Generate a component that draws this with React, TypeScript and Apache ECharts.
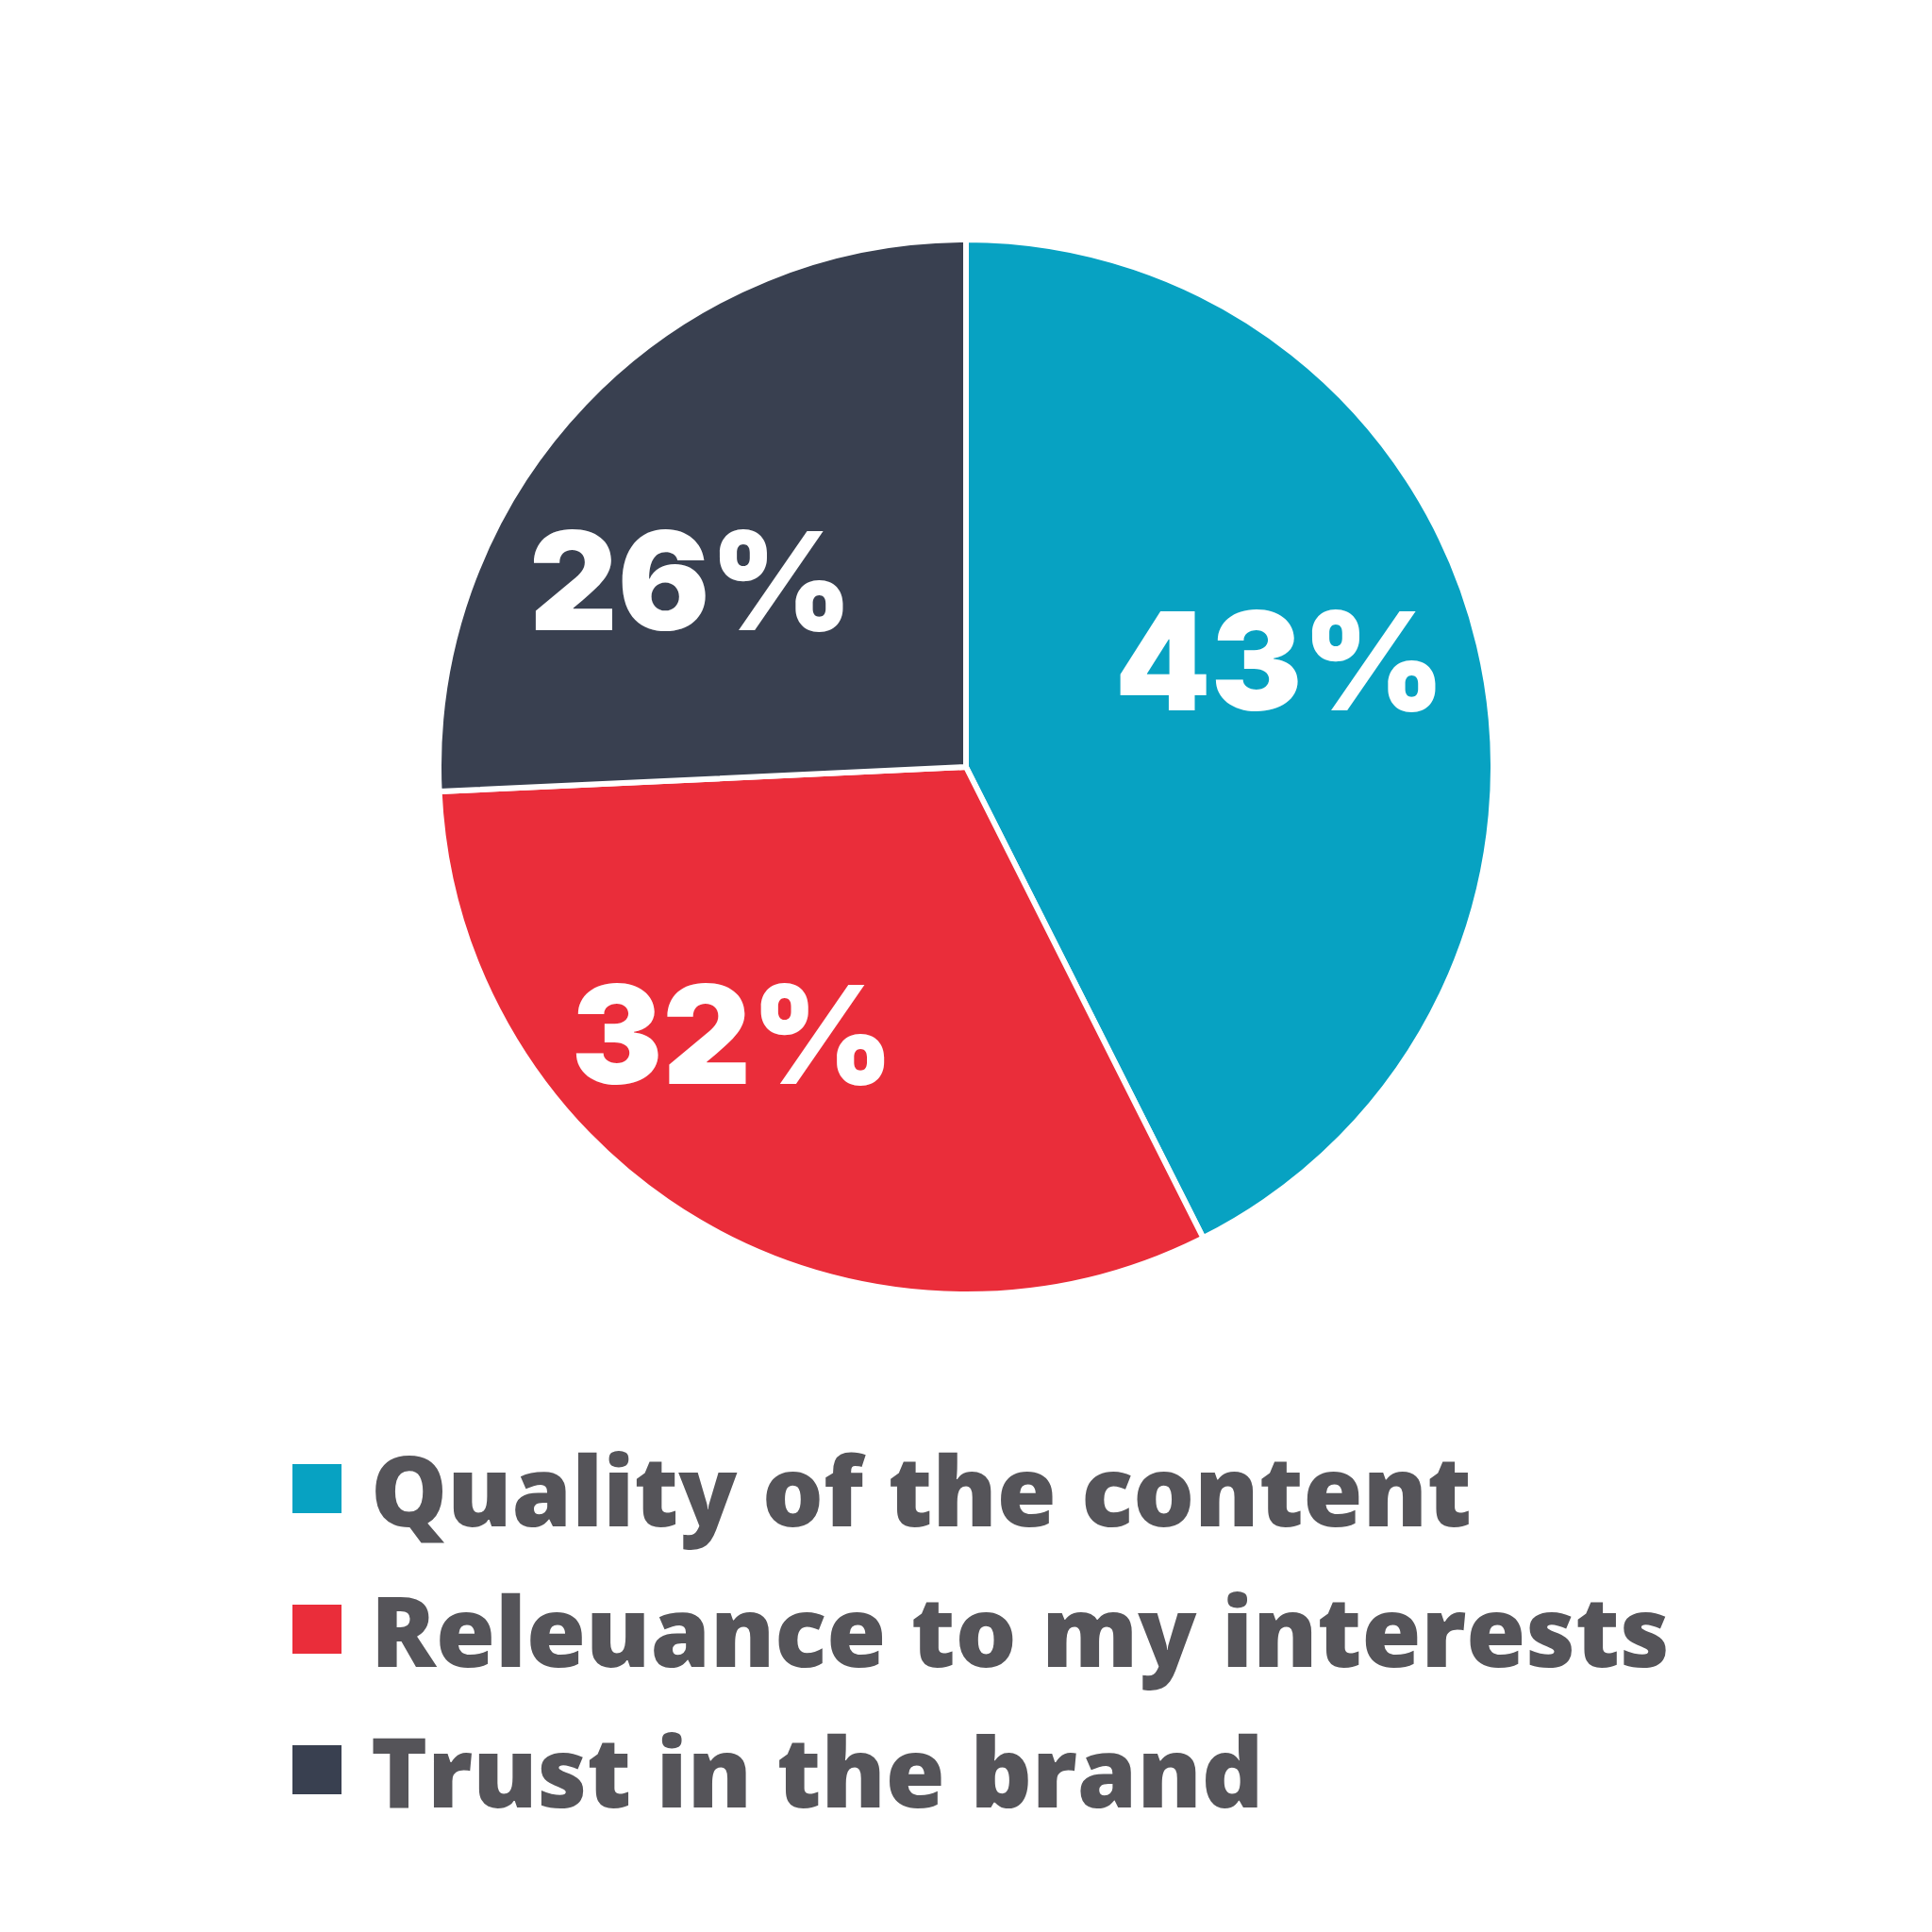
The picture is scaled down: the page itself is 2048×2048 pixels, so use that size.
import React, { useEffect, useRef } from "react";
import * as echarts from "echarts";

const categories = ["Quality of the content", "Relevance to my interests", "Trust in the brand"];
const legendLabels = ["Quality of the content", "Releuance to my interests", "Trust in the brand"];
const values = [43, 32, 26];
const colors = ["#07A2C2", "#EA2D3A", "#394050"];
// small per-label nudges (styling) to match the reference placement
const labelNudges = [
  [-15, -30],
  [-67, -25],
  [-33, 49],
];

export default function App() {
  const ref = useRef<HTMLDivElement>(null);
  useEffect(() => {
    document.body.style.margin = "0";
    const chart = echarts.init(ref.current!, null, { renderer: "svg" });
    const data = categories.map((c, i) => ({
      name: legendLabels[i],
      value: values[i],
      itemStyle: { color: colors[i] },
    }));
    chart.setOption({
      animation: false,
      backgroundColor: "#ffffff",
      legend: {
        orient: "vertical",
        left: 310,
        top: 1527,
        itemWidth: 52,
        itemHeight: 52,
        itemGap: 47,
        padding: 0,
        icon: "rect",
        itemStyle: { borderWidth: 0 },
        selectedMode: false,
        textStyle: {
          fontFamily: "Open Sans",
          fontWeight: 800,
          fontSize: 102,
          color: "#555459",
          padding: [0, 0, 0, 26],
        },
        data: legendLabels,
      },
      series: [
        {
          type: "pie",
          center: [1024, 813],
          radius: [0, 559],
          startAngle: 90,
          clockwise: true,
          silent: true,
          label: { show: false },
          labelLine: { show: false },
          itemStyle: { borderColor: "#ffffff", borderWidth: 6 },
          data,
        },
        {
          type: "pie",
          center: [1024, 813],
          radius: [150, 559],
          startAngle: 90,
          clockwise: true,
          silent: true,
          itemStyle: { color: "transparent", borderWidth: 0 },
          label: {
            show: true,
            position: "inside",
            formatter: "{c}%",
            fontFamily: "Inter",
            fontWeight: 900,
            fontSize: 145,
            color: "#ffffff",
          },
          labelLine: { show: false },
          labelLayout: (p: any) => ({
            dx: labelNudges[p.dataIndex][0],
            dy: labelNudges[p.dataIndex][1],
          }),
          data: data.map((d) => ({ name: d.name, value: d.value })),
        },
      ],
    });
    return () => chart.dispose();
  }, []);
  return <div ref={ref} style={{ width: 2048, height: 2048 }} />;
}
